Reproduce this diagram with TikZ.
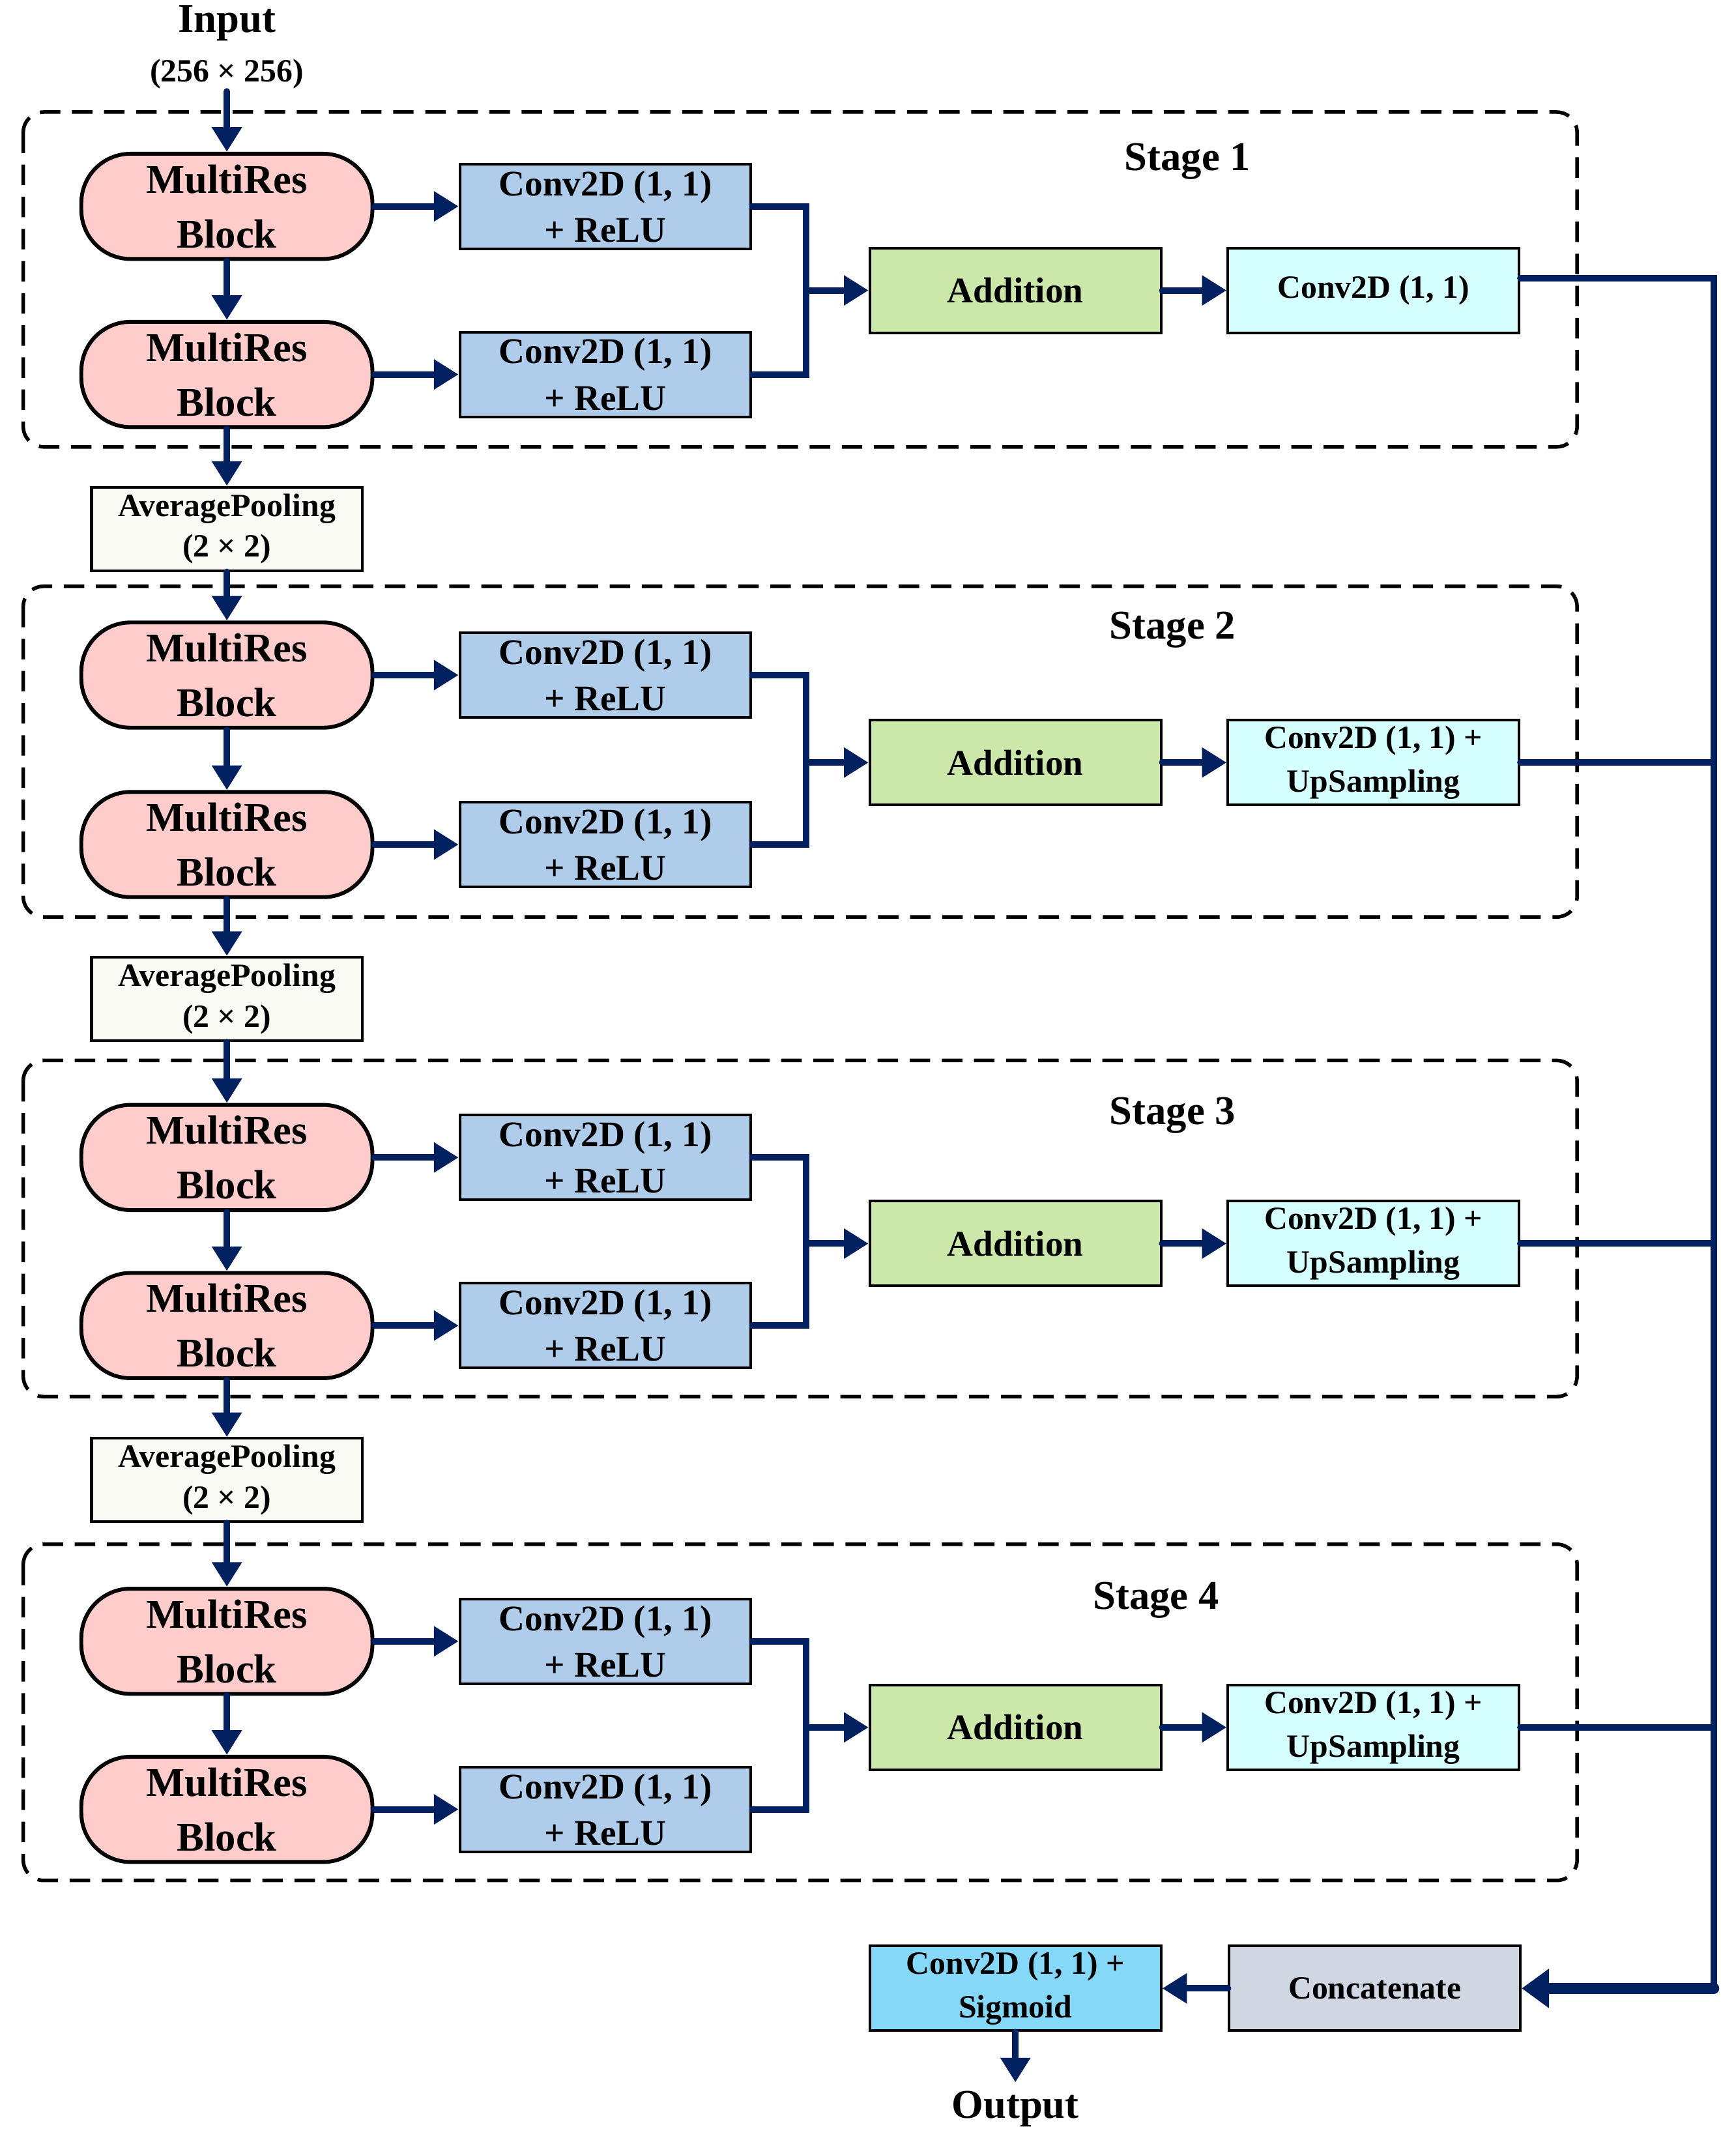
\documentclass[tikz,border=0pt]{standalone}
\usepackage{fontspec}
\setmainfont{Liberation Serif}
\usepackage{tikz}
\usetikzlibrary{positioning,shapes,arrows.meta}
\usepackage{xcolor}

\definecolor{navy}{HTML}{002060}
\definecolor{mrpink}{HTML}{FFCCCC}
\definecolor{convblue}{HTML}{AFCDEA}
\definecolor{addgreen}{HTML}{CBE7A9}
\definecolor{upcyan}{HTML}{D5FFFF}
\definecolor{poolgray}{HTML}{FAFAF5}
\definecolor{sigblue}{HTML}{86D8F8}
\definecolor{catgray}{HTML}{D0D6E2}

\tikzset{
    mrblock/.style={draw=black, line width=1.6pt, fill=mrpink, rounded corners=0.72cm,
        minimum width=4.26cm, minimum height=1.54cm, align=center,
        font=\fontsize{17}{22.8}\selectfont\bfseries},
    convbox/.style={draw=black, line width=1.1pt, fill=convblue,
        minimum width=4.26cm, minimum height=1.24cm, align=center, inner sep=0pt,
        font=\fontsize{15}{19.3}\selectfont\bfseries},
    addbox/.style={draw=black, line width=1.1pt, fill=addgreen,
        minimum width=4.26cm, minimum height=1.24cm, align=center,
        font=\fontsize{15}{18}\selectfont\bfseries},
    upbox/.style={draw=black, line width=1.1pt, fill=upcyan,
        minimum width=4.26cm, minimum height=1.24cm, align=center, inner sep=0pt,
        font=\fontsize{13.5}{18.2}\selectfont\bfseries},
    poolbox/.style={draw=black, line width=1.1pt, fill=poolgray,
        minimum width=3.96cm, minimum height=1.22cm, align=center, inner sep=0pt,
        font=\fontsize{13.5}{17}\selectfont\bfseries},
    stagebox/.style={draw=black, line width=1.5pt, dash pattern=on 0.3cm off 0.17cm,
        rounded corners=0.3cm},
    stagelabel/.style={font=\fontsize{17}{20}\selectfont\bfseries},
    link/.style={draw=navy, line width=2.7pt, line cap=round},
    flow/.style={link, -{Triangle[length=0.36cm,width=0.42cm]}},
    bigflow/.style={draw=navy, line width=4.6pt, line cap=round,
        -{Triangle[length=0.4cm,width=0.55cm]}}
}

\begin{document}
\begin{tikzpicture}
    \useasboundingbox (0,0) rectangle (25.40,-31.29);

    % stage frames
    \draw[stagebox] (0.34,-1.64) rectangle (23.08,-6.54);
    \draw[stagebox] (0.34,-8.58) rectangle (23.08,-13.42);
    \draw[stagebox] (0.34,-15.52) rectangle (23.08,-20.44);
    \draw[stagebox] (0.34,-22.60) rectangle (23.08,-27.52);
    \node[stagelabel] (st1) at (17.38,-2.36) {Stage 1};
    \node[stagelabel] (st2) at (17.16,-9.22) {Stage 2};
    \node[stagelabel] (st3) at (17.16,-16.32) {Stage 3};
    \node[stagelabel] (st4) at (16.92,-23.42) {Stage 4};

    % input
    \node[font=\fontsize{17}{20}\selectfont\bfseries] (inp) at (3.32,-0.34) {Input};
    \node[font=\fontsize{13.5}{16}\selectfont\bfseries, inner sep=1pt] (size) at (3.32,-1.08) {(256 × 256)};

    % stage 1
    \node[mrblock] (mr1a) at (3.32,-3.02) {MultiRes\\Block};
    \node[mrblock] (mr1b) at (3.32,-5.48) {MultiRes\\Block};
    \node[convbox] (cv1a) at (8.86,-3.02) {Conv2D (1, 1)\\+ ReLU};
    \node[convbox] (cv1b) at (8.86,-5.48) {Conv2D (1, 1)\\+ ReLU};
    \coordinate (j1) at (11.80,-4.25);
    \node[addbox] (add1) at (14.86,-4.25) {Addition};
    \node[upbox] (up1) at (20.10,-4.25) {Conv2D (1, 1)};
    \node[poolbox] (pool1) at (3.32,-7.74) {AveragePooling\\(2 × 2)};

    % stage 2
    \node[mrblock] (mr2a) at (3.32,-9.88) {MultiRes\\Block};
    \node[mrblock] (mr2b) at (3.32,-12.36) {MultiRes\\Block};
    \node[convbox] (cv2a) at (8.86,-9.88) {Conv2D (1, 1)\\+ ReLU};
    \node[convbox] (cv2b) at (8.86,-12.36) {Conv2D (1, 1)\\+ ReLU};
    \coordinate (j2) at (11.80,-11.16);
    \node[addbox] (add2) at (14.86,-11.16) {Addition};
    \node[upbox] (up2) at (20.10,-11.16) {Conv2D (1, 1) +\\UpSampling};
    \node[poolbox] (pool2) at (3.32,-14.62) {AveragePooling\\(2 × 2)};

    % stage 3
    \node[mrblock] (mr3a) at (3.32,-16.94) {MultiRes\\Block};
    \node[mrblock] (mr3b) at (3.32,-19.40) {MultiRes\\Block};
    \node[convbox] (cv3a) at (8.86,-16.94) {Conv2D (1, 1)\\+ ReLU};
    \node[convbox] (cv3b) at (8.86,-19.40) {Conv2D (1, 1)\\+ ReLU};
    \coordinate (j3) at (11.80,-18.20);
    \node[addbox] (add3) at (14.86,-18.20) {Addition};
    \node[upbox] (up3) at (20.10,-18.20) {Conv2D (1, 1) +\\UpSampling};
    \node[poolbox] (pool3) at (3.32,-21.66) {AveragePooling\\(2 × 2)};

    % stage 4
    \node[mrblock] (mr4a) at (3.32,-24.02) {MultiRes\\Block};
    \node[mrblock] (mr4b) at (3.32,-26.48) {MultiRes\\Block};
    \node[convbox] (cv4a) at (8.86,-24.02) {Conv2D (1, 1)\\+ ReLU};
    \node[convbox] (cv4b) at (8.86,-26.48) {Conv2D (1, 1)\\+ ReLU};
    \coordinate (j4) at (11.80,-25.28);
    \node[addbox] (add4) at (14.86,-25.28) {Addition};
    \node[upbox] (up4) at (20.10,-25.28) {Conv2D (1, 1) +\\UpSampling};

    % output part
    \node[upbox, fill=catgray] (cat) at (20.12,-29.10) {Concatenate};
    \node[upbox, fill=sigblue] (sig) at (14.86,-29.10) {Conv2D (1, 1) +\\Sigmoid};
    \node[font=\fontsize{17}{20}\selectfont\bfseries] (outp) at (14.86,-30.86) {Output};
    \coordinate (bus) at (25.08,-29.10);

    % vertical chain
    \draw[flow] (size) -- (mr1a);
    \draw[flow] (mr1a) -- (mr1b);
    \draw[flow] (mr1b) -- (pool1);
    \draw[flow] (pool1) -- (mr2a);
    \draw[flow] (mr2a) -- (mr2b);
    \draw[flow] (mr2b) -- (pool2);
    \draw[flow] (pool2) -- (mr3a);
    \draw[flow] (mr3a) -- (mr3b);
    \draw[flow] (mr3b) -- (pool3);
    \draw[flow] (pool3) -- (mr4a);
    \draw[flow] (mr4a) -- (mr4b);

    % branches
    \draw[flow] (mr1a) -- (cv1a);
    \draw[flow] (mr1b) -- (cv1b);
    \draw[link] (cv1a.east) -| (j1) |- (cv1b.east);
    \draw[flow] (j1) -- (add1);
    \draw[flow] (add1) -- (up1);
    \draw[flow] (mr2a) -- (cv2a);
    \draw[flow] (mr2b) -- (cv2b);
    \draw[link] (cv2a.east) -| (j2) |- (cv2b.east);
    \draw[flow] (j2) -- (add2);
    \draw[flow] (add2) -- (up2);
    \draw[flow] (mr3a) -- (cv3a);
    \draw[flow] (mr3b) -- (cv3b);
    \draw[link] (cv3a.east) -| (j3) |- (cv3b.east);
    \draw[flow] (j3) -- (add3);
    \draw[flow] (add3) -- (up3);
    \draw[flow] (mr4a) -- (cv4a);
    \draw[flow] (mr4b) -- (cv4b);
    \draw[link] (cv4a.east) -| (j4) |- (cv4b.east);
    \draw[flow] (j4) -- (add4);
    \draw[flow] (add4) -- (up4);

    % bus to concatenate
    \draw[link] ([yshift=0.18cm]up1.east) -| (bus);
    \draw[link] (up2.east) -- (up2.east -| bus);
    \draw[link] (up3.east) -- (up3.east -| bus);
    \draw[link] (up4.east) -- (up4.east -| bus);
    \draw[bigflow] (bus) -- (cat);
    \draw[flow] (cat) -- (sig);
    \draw[flow] (sig) -- (outp);
\end{tikzpicture}
\end{document}
